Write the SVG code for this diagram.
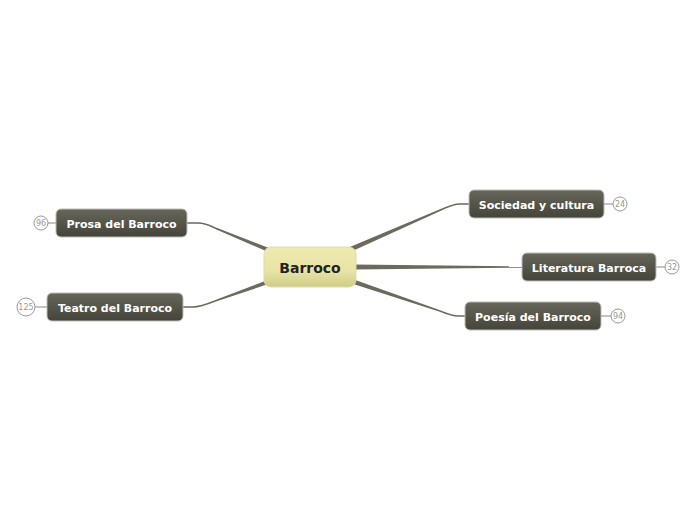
<svg xmlns="http://www.w3.org/2000/svg" width="696" height="520" viewBox="0 0 696 520">
<defs>
<linearGradient id="dk" x1="0" y1="0" x2="0" y2="1"><stop offset="0" stop-color="#66665a"/><stop offset="1" stop-color="#45443a"/></linearGradient>
<linearGradient id="ct" x1="0" y1="0" x2="0" y2="1"><stop offset="0" stop-color="#eeeab0"/><stop offset="0.6" stop-color="#e8e4a4"/><stop offset="1" stop-color="#cfcb88"/></linearGradient>
<style>
.n{fill:url(#dk);stroke:#bdbdb5;stroke-width:1}
.t{font-family:"DejaVu Sans",sans-serif;font-weight:bold;font-size:11px;fill:#fff;text-anchor:middle}
.b{fill:#fff;stroke:#999;stroke-width:1}
.bt{font-family:"DejaVu Sans",sans-serif;font-size:8px;fill:#999;text-anchor:middle}
.c{fill:none;stroke:#6b6a5c;stroke-width:1.5}
.p{fill:#6b6a5c}
</style>
</defs>
<g id="connectors">
<polygon class="p" points="311.1,264.2 215.3,227.3 214.7,228.7 308.9,269.8"/>
<path class="c" d="M187 223 H198 Q205 223 215 228"/>
<polygon class="p" points="309,264.2 214.7,300.3 215.3,301.7 311,269.8"/>
<path class="c" d="M183 307 H193 Q200 307 215 301"/>
<polygon class="p" points="308.8,264.2 444.7,207.3 445.3,208.7 311.2,269.8"/>
<path class="c" d="M469 204 H459 Q455 204 445 208"/>
<polygon class="p" points="310,264 522,266.3 522,267.7 310,270"/>
<polygon class="p" points="311,264.2 440.2,310.3 439.8,311.7 309,269.8"/>
<path class="c" d="M465 316 H458 Q452 316 440 311"/>
<line x1="48" y1="223" x2="56" y2="223" stroke="#888" stroke-width="1"/>
<line x1="35" y1="307" x2="47" y2="307" stroke="#888" stroke-width="1"/>
<line x1="604" y1="204" x2="613" y2="204" stroke="#888" stroke-width="1"/>
<line x1="656" y1="267" x2="665" y2="267" stroke="#888" stroke-width="1"/>
<line x1="601" y1="316" x2="611" y2="316" stroke="#888" stroke-width="1"/>
</g>
<g id="center"><rect x="264" y="247" width="92" height="40" rx="7" fill="url(#ct)" stroke="#e0dca0"/><text x="310" y="273" font-family="DejaVu Sans,sans-serif" font-weight="bold" font-size="14" fill="#222" text-anchor="middle">Barroco</text></g>
<g id="prosa"><rect class="n" x="56" y="209" width="131" height="28" rx="5"/><text class="t" x="121.5" y="227.5">Prosa del Barroco</text><circle class="b" cx="41" cy="223" r="7"/><text class="bt" x="41" y="226">96</text></g>
<g id="teatro"><rect class="n" x="47" y="293" width="136" height="28" rx="5"/><text class="t" x="115" y="311.5">Teatro del Barroco</text><circle class="b" cx="26" cy="307" r="9"/><text class="bt" x="26" y="310">125</text></g>
<g id="sociedad"><rect class="n" x="469" y="190" width="135" height="28" rx="5"/><text class="t" x="536.5" y="208.5">Sociedad y cultura</text><circle class="b" cx="620" cy="204" r="7"/><text class="bt" x="620" y="207">24</text></g>
<g id="literatura"><rect class="n" x="522" y="253" width="134" height="28" rx="5"/><text class="t" x="589" y="271.5">Literatura Barroca</text><circle class="b" cx="672" cy="267" r="7"/><text class="bt" x="672" y="270">32</text></g>
<g id="poesia"><rect class="n" x="465" y="302" width="136" height="28" rx="5"/><text class="t" x="533" y="320.5">Poesía del Barroco</text><circle class="b" cx="618" cy="316" r="7"/><text class="bt" x="618" y="319">94</text></g>
</svg>
